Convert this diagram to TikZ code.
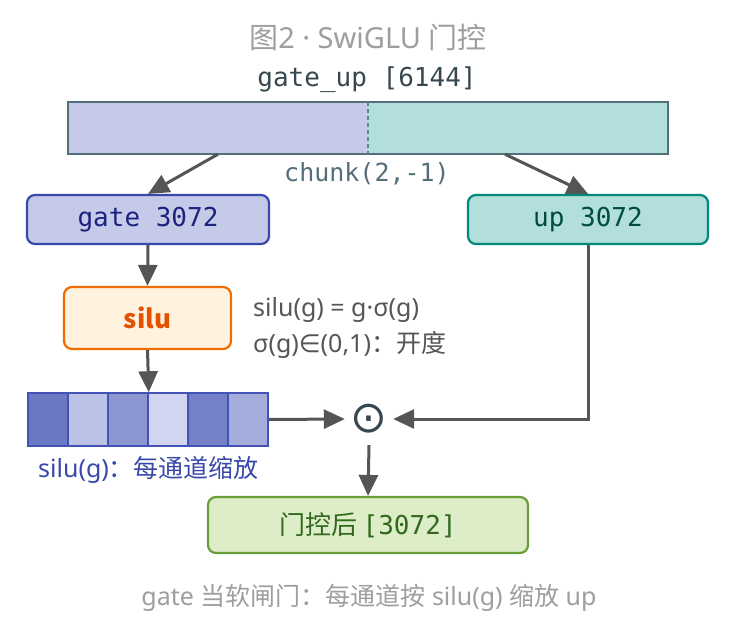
\documentclass[tikz,border=0pt]{standalone}
\usepackage{fontspec}
\setmainfont{Noto Sans}
\newfontfamily\cjk{Noto Sans CJK SC}
\newfontfamily\symf{DejaVu Sans}
\setmonofont{DejaVu Sans Mono}
\usetikzlibrary{arrows.meta,calc}
\definecolor{titlec}{HTML}{9E9E9E}
\definecolor{darkc}{HTML}{37474F}
\definecolor{barb}{HTML}{546E7A}
\definecolor{gatef}{HTML}{C5CAE9}
\definecolor{gateb}{HTML}{3949AB}
\definecolor{gatet}{HTML}{1A237E}
\definecolor{upf}{HTML}{B2DFDB}
\definecolor{upb}{HTML}{00897B}
\definecolor{upt}{HTML}{004D40}
\definecolor{siluf}{HTML}{FFF3E0}
\definecolor{silub}{HTML}{EF6C00}
\definecolor{silut}{HTML}{E65100}
\definecolor{annc}{HTML}{555555}
\definecolor{arrowc}{HTML}{555555}
\definecolor{outf}{HTML}{DCEDC8}
\definecolor{outb}{HTML}{689F38}
\definecolor{outt}{HTML}{33691E}
\definecolor{divc}{HTML}{4F8F8F}
\definecolor{cellb}{HTML}{4253B5}
\definecolor{cA}{HTML}{6B78C4}
\definecolor{cB}{HTML}{BCC2E6}
\definecolor{cC}{HTML}{8C96D0}
\definecolor{cD}{HTML}{D1D5EF}
\definecolor{cE}{HTML}{7480C8}
\definecolor{cF}{HTML}{A4ACDB}
\begin{document}
\begin{tikzpicture}[x=1pt,y=-1pt,
  box/.style={draw, rounded corners=8pt, line width=2.2pt, inner sep=0pt},
  arr/.style={draw=arrowc, line width=3pt, -{Triangle[length=21pt,width=19pt]}},
  cell/.style={draw=cellb, line width=1.5pt, minimum width=40pt, minimum height=53pt, inner sep=0pt},
  seg/.style={draw=none, minimum width=300pt, minimum height=52pt, inner sep=0pt},
  mono/.style={font=\ttfamily\fontsize{26}{30}\selectfont},
  ann/.style={font=\fontsize{25}{29}\selectfont, text=annc, anchor=west, inner sep=0pt}]
\useasboundingbox (0,0) rectangle (744,634);
% title
\node[font=\fontsize{29}{33}\selectfont, text=titlec] (title) at (368,37) {{\cjk 图}2 · SwiGLU {\cjk 门控}};
\node[mono, text=darkc] (gulabel) at (367,80) {gate\textunderscore up [6144]};
% bar
\node[seg, fill=gatef] (gseg) at (218,128) {};
\node[seg, fill=upf] (useg) at (518,128) {};
\draw[draw=barb, line width=2.5pt] (gseg.north west) rectangle (useg.south east);
\draw[draw=divc, dashed, line width=1.5pt, dash pattern=on 4pt off 3pt] (gseg.north east) -- (gseg.south east);
\node[font=\ttfamily\fontsize{25}{29}\selectfont, text=barb] (chunk) at (367,174) {chunk(2,-1)};
% gate / up boxes
\node[box, draw=gateb, fill=gatef, minimum width=242pt, minimum height=49pt, mono, text=gatet] (gate) at (148,219.5) {gate 3072};
\node[box, draw=upb, fill=upf, minimum width=240pt, minimum height=49pt, mono, text=upt] (up) at (588,219.5) {up 3072};
\coordinate (ustart) at ($(useg.south)+(-13,0)$);
\draw[arr] (gseg.south) -- (gate.north);
\draw[arr] (ustart) -- (up.north);
% silu
\node[box, draw=silub, fill=siluf, minimum width=167pt, minimum height=62pt, font=\cjk\bfseries\fontsize{26}{30}\selectfont, text=silut] (silu) at (147.5,318) {silu};
\draw[arr] (gate.south) -- (silu.north);
\node[ann] (ann1) at (253,310) {silu(g) = g·σ(g)};
\node[ann] (ann2) at (253,345) {σ(g){\symf ∈}(0,1){\cjk ：开度}};
% cells
\node[cell, fill=cA] (c1) at (48,419.5) {};
\node[cell, fill=cB] (c2) at (88,419.5) {};
\node[cell, fill=cC] (c3) at (128,419.5) {};
\node[cell, fill=cD] (c4) at (168,419.5) {};
\node[cell, fill=cE] (c5) at (208,419.5) {};
\node[cell, fill=cF] (c6) at (248,419.5) {};
\draw[arr] (silu.south) -- (c3.north east);
\node[font=\fontsize{25}{29}\selectfont, text=gateb, anchor=west, inner sep=0pt] (clabel) at (38,470) {silu(g){\cjk ：每通道缩放}};
% odot
\node[font=\symf\fontsize{44}{48}\selectfont, text=darkc, inner sep=0pt, minimum width=48pt, minimum height=52pt] (odot) at (369,419) {⊙};
\draw[arr] (c6.east) -- (odot.west);
\draw[arr] (up.south) |- (odot.east);
% output
\node[box, draw=outb, fill=outf, minimum width=320pt, minimum height=56pt, text=outt] (out) at (368,525) {{\fontsize{26}{30}\selectfont\cjk 门控后}\ \ {\ttfamily\fontsize{26}{30}\selectfont[3072]}};
\draw[arr] (odot.south) -- (out.north);
% footer
\node[font=\fontsize{25}{29}\selectfont, text=titlec] (footer) at (369,598) {gate {\cjk 当软闸门：每通道按} silu(g) {\cjk 缩放} up};
\end{tikzpicture}
\end{document}
